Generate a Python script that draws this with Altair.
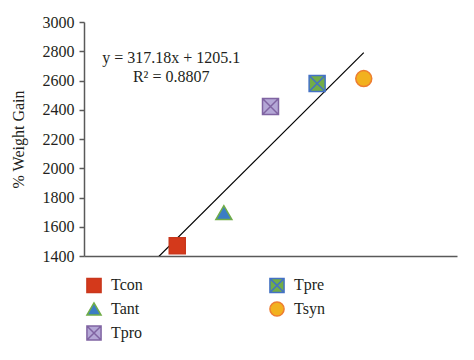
import altair as alt
import pandas as pd

# ---- data ----
names = ["Tcon", "Tant", "Tpro", "Tpre", "Tsyn"]
x_vals = [1, 2, 3, 4, 5]
gain = [1470, 1697, 2422, 2579, 2613]
fills = ["#d4391b", "#3b7dc4", "#b4a7d6", "#72ad47", "#f2b11e"]
strokes = ["#c9371c", "#70ad47", "#8064a2", "#4472c4", "#ed7d31"]
XSQ = "M-1,-1L1,-1L1,1L-1,1Z M-1,-1L1,1 M1,-1L-1,1"
shapes = ["square", "triangle-up", XSQ, XSQ, "circle"]
legend_order = ["Tcon", "Tant", "Tpro", "Tpre", "Tsyn"]

slope = 317.18
intercept = 1205.1
r2 = 0.8807
trend_x = [0, 5]
y_ticks = [1400, 1600, 1800, 2000, 2200, 2400, 2600, 2800, 3000]

eq_lines = [f"y = {slope}x + {intercept}", f"R\u00b2 = {r2}"]
eq_x = [0.87, 0.87]
eq_y = [2755, 2624]

# ---- tables ----
df = pd.DataFrame({"name": names, "x": x_vals, "gain": gain})
trend_df = pd.DataFrame({"x": trend_x, "gain": [intercept + slope * v for v in trend_x]})
ann_df = pd.DataFrame({"x": eq_x, "gain": eq_y, "text": eq_lines})

idx = {n: i for i, n in enumerate(names)}
fill_range = [fills[idx[n]] for n in legend_order]
stroke_range = [strokes[idx[n]] for n in legend_order]
shape_range = [shapes[idx[n]] for n in legend_order]

FONT = "Liberation Serif"

xscale = alt.Scale(domain=[-1, 7], nice=False, zero=False)
yscale = alt.Scale(domain=[1400, 3000], nice=False, zero=False)

xenc = alt.X("x:Q", scale=xscale,
             axis=alt.Axis(title=None, labels=False, ticks=False, grid=False,
                           domainColor="#595959", domainWidth=1.5))
yenc = alt.Y("gain:Q", scale=yscale,
             axis=alt.Axis(title="% Weight Gain", values=y_ticks, tickCount=9, grid=False,
                           labelOverlap=False, format="d", tickSize=5, labelPadding=5,
                           domainColor="#595959", domainWidth=1.5,
                           tickColor="#595959", tickWidth=1.5,
                           titleX=-66, titleY=117, titleAngle=-90,
                           titleBaseline="middle", titleAlign="center"))

leg = alt.Legend(
    title=None, orient="none", legendX=2, legendY=255, columns=2,
    columnPadding=123, rowPadding=2, symbolSize=200, symbolStrokeWidth=1.5,
    labelFont=FONT, labelFontSize=16, labelColor="#231f20", labelOffset=9,
    padding=0,
)

trend = alt.Chart(trend_df).mark_line(color="black", strokeWidth=1.2, clip=True).encode(
    x=xenc, y=yenc
)

points = alt.Chart(df).mark_point(filled=True, size=256, strokeWidth=1.5, opacity=1).encode(
    x=xenc, y=yenc,
    fill=alt.Fill("name:N", scale=alt.Scale(domain=legend_order, range=fill_range), legend=leg),
    stroke=alt.Stroke("name:N", scale=alt.Scale(domain=legend_order, range=stroke_range), legend=leg),
    shape=alt.Shape("name:N", scale=alt.Scale(domain=legend_order, range=shape_range), legend=leg),
)

text = alt.Chart(ann_df).mark_text(font=FONT, fontSize=16, align="center",
                                   baseline="middle", color="#231f20").encode(
    x=alt.X("x:Q", scale=xscale), y=alt.Y("gain:Q", scale=yscale), text="text:N"
)

chart = alt.layer(trend, points, text).properties(
    width=373, height=234,
    autosize=alt.AutoSizeParams(type="none"),
    padding={"left": 76, "top": 14, "right": 9, "bottom": 90},
).configure_view(stroke=None).configure_axis(
    labelFont=FONT, labelFontSize=16, labelColor="#231f20",
    titleFont=FONT, titleFontSize=16, titleFontWeight="normal", titleColor="#231f20",
)

chart.save("out.html", embed_options={"renderer": "svg", "actions": False})
